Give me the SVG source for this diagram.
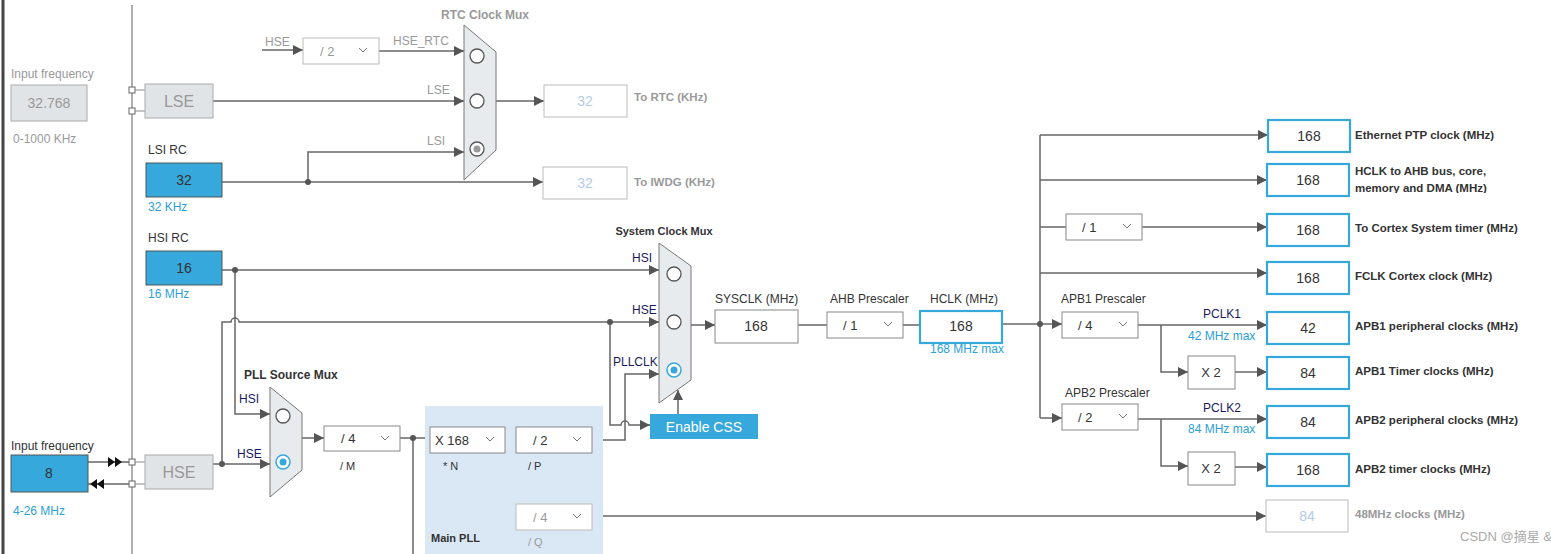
<svg xmlns="http://www.w3.org/2000/svg" width="1551" height="554" viewBox="0 0 1551 554">
<style>
text{font-family:"Liberation Sans",Arial,sans-serif;font-size:12px;fill:#333}
.b{font-weight:bold}
.r{font-weight:bold;font-size:11.5px}
.g{fill:#999}
.bl{fill:#2a9fd8}
.nv{fill:#1a1a5e}
.lt{fill:#b4cbe8}
.v{font-size:14px;text-anchor:middle}
.w{fill:#fff}
.ln{fill:none;stroke:#666;stroke-width:1.5}
.box{fill:#fff;stroke:#888;stroke-width:1}
.lbox{fill:#fff;stroke:#bbb;stroke-width:1}
.gbox{fill:#e1e4e7;stroke:#aaa;stroke-width:1}
.blue{fill:#37a8db;stroke:#555;stroke-width:1}
.out{fill:#fff;stroke:#37a8db;stroke-width:2.2}
.mux{fill:#e8ebee;stroke:#777;stroke-width:1}
.c{fill:#fff;stroke:#555;stroke-width:1.3}
.cs{fill:#fff;stroke:#37a8db;stroke-width:1.5}
.chev{fill:none;stroke:#777;stroke-width:1}
</style>
<defs>
<marker id="a" viewBox="0 0 10 10" refX="10" refY="5" markerWidth="10" markerHeight="10" markerUnits="userSpaceOnUse" orient="auto"><path d="M0,0L10,5L0,10z" fill="#555"/></marker>
</defs>
<rect x="0" y="0" width="1551" height="554" fill="#fff"/>
<line x1="3" y1="0" x2="3" y2="554" stroke="#444" stroke-width="3"/>
<line x1="132" y1="5" x2="132" y2="554" stroke="#777" stroke-width="1.2"/>

<g id="connectors">
<path class="ln" d="M262,50H303" marker-end="url(#a)"/>
<path class="ln" d="M379,51H464" marker-end="url(#a)"/>
<path class="ln" d="M213,101H464" marker-end="url(#a)"/>
<path class="ln" d="M222,182H543" marker-end="url(#a)"/>
<path class="ln" d="M308,182V152H464" marker-end="url(#a)"/>
<path class="ln" d="M487,101H544" marker-end="url(#a)"/>
<path class="ln" d="M222,270H659" marker-end="url(#a)"/>
<path class="ln" d="M235,270V414H270" marker-end="url(#a)"/>
<path class="ln" d="M213,464H270" marker-end="url(#a)"/>
<path class="ln" d="M222,464V322H231a4,4 0 0 1 8,0H659" marker-end="url(#a)"/>
<path class="ln" d="M610,322V425H621a4,4 0 0 1 8,0H650" marker-end="url(#a)"/>
<path class="ln" d="M302,438H324" marker-end="url(#a)"/>
<path class="ln" d="M400,438H430"/>
<path class="ln" d="M413,438V554"/>
<path class="ln" d="M505,438H516"/>
<path class="ln" d="M509,438V517H516"/>
<path class="ln" d="M592,440H625V374H659" marker-end="url(#a)"/>
<path class="ln" d="M592,516H1266" marker-end="url(#a)"/>
<path class="ln" d="M678,414V390" marker-end="url(#a)"/>
<path class="ln" d="M691,325H715" marker-end="url(#a)"/>
<path class="ln" d="M798,325H827"/>
<path class="ln" d="M903,325H920"/>
<path class="ln" d="M1002,324H1040"/>
<path class="ln" d="M1040,135V418"/>
<path class="ln" d="M1040,135H1268" marker-end="url(#a)"/>
<path class="ln" d="M1040,180H1267" marker-end="url(#a)"/>
<path class="ln" d="M1040,227H1066"/>
<path class="ln" d="M1142,227H1267" marker-end="url(#a)"/>
<path class="ln" d="M1040,273H1267" marker-end="url(#a)"/>
<path class="ln" d="M1040,324H1062" marker-end="url(#a)"/>
<path class="ln" d="M1138,325H1267" marker-end="url(#a)"/>
<path class="ln" d="M1161,325V372H1188" marker-end="url(#a)"/>
<path class="ln" d="M1235,372H1267" marker-end="url(#a)"/>
<path class="ln" d="M1040,418H1062" marker-end="url(#a)"/>
<path class="ln" d="M1138,419H1267" marker-end="url(#a)"/>
<path class="ln" d="M1161,419V466H1188" marker-end="url(#a)"/>
<path class="ln" d="M1235,467H1267" marker-end="url(#a)"/>
<path class="ln" d="M88,462H132M88,484H132"/>
<path d="M108,457l7,5l-7,5zM115,457l7,5l-7,5zM97,479l-7,5l7,5zM104,479l-7,5l7,5z" fill="#111"/>
<g fill="#555"><circle cx="308" cy="182" r="3"/><circle cx="235" cy="270" r="3"/><circle cx="222" cy="464" r="3"/><circle cx="610" cy="322" r="3"/><circle cx="413" cy="438" r="3"/><circle cx="1040" cy="324" r="3"/></g>
</g>

<g id="lse-input"><text x="11" y="78" class="g">Input frequency</text><rect class="gbox" x="11" y="85" width="76" height="36"/><text x="49" y="108" class="v g">32.768</text><text x="13" y="143" class="g">0-1000 KHz</text></g>
<g id="lse"><rect x="129" y="87" width="6" height="6" fill="#fff" stroke="#666"/><rect x="129" y="108" width="6" height="6" fill="#fff" stroke="#666"/><path d="M135,90H145M135,111H145" stroke="#888"/><rect class="gbox" x="145" y="84" width="68" height="34"/><text x="179" y="107" class="v g" style="font-size:16px">LSE</text></g>
<g id="lsi"><text x="148" y="154">LSI RC</text><rect class="blue" x="146" y="163" width="76" height="34"/><text x="184" y="185" class="v">32</text><text x="148" y="211" class="bl">32 KHz</text></g>
<g id="hsi"><text x="148" y="242">HSI RC</text><rect class="blue" x="146" y="251" width="76" height="34"/><text x="184" y="273" class="v">16</text><text x="148" y="298" class="bl">16 MHz</text></g>
<g id="hse-input"><text x="11" y="450">Input frequency</text><rect class="blue" x="11" y="455" width="77" height="37"/><text x="49" y="478" class="v">8</text><text x="13" y="515" class="bl">4-26 MHz</text></g>
<g id="hse"><rect x="129" y="459" width="6" height="6" fill="#fff" stroke="#666"/><rect x="129" y="481" width="6" height="6" fill="#fff" stroke="#666"/><path d="M135,462H145M135,484H145" stroke="#888"/><rect class="gbox" x="145" y="455" width="68" height="34"/><text x="179" y="478" class="v g" style="font-size:16px">HSE</text></g>

<g id="rtc-mux"><text x="485" y="19" class="b g" text-anchor="middle">RTC Clock Mux</text><polygon class="mux" points="464,25 496,52 496,150 464,180"/><circle class="c" cx="477" cy="56" r="7" stroke="#999"/><circle class="c" cx="477" cy="101" r="7" stroke="#999"/><circle class="c" cx="477" cy="149" r="7" stroke="#999"/><circle cx="477" cy="149" r="3.5" fill="#999"/>
<text x="265" y="46" class="g">HSE</text><text x="393" y="45" class="g">HSE_RTC</text><text x="427" y="94" class="g">LSE</text><text x="427" y="145" class="g">LSI</text></g>
<g id="div-hse-rtc"><rect class="lbox" x="303" y="38" width="76" height="26"/><text x="320" y="56" class="g" style="font-size:13px">/ 2</text><path class="chev" d="M359,48l4,4l4,-4"/></g>
<g id="to-rtc"><rect class="lbox" x="544" y="85" width="83" height="32"/><text x="585" y="106" class="v lt">32</text><text x="634" y="101" class="r g">To RTC (KHz)</text></g>
<g id="to-iwdg"><rect class="lbox" x="543" y="167" width="84" height="32"/><text x="585" y="188" class="v lt">32</text><text x="634" y="186" class="r g">To IWDG (KHz)</text></g>

<g id="pll-mux"><text x="244" y="379" class="b">PLL Source Mux</text><polygon class="mux" points="270,387 302,413 302,470 270,497"/><circle class="c" cx="283" cy="416" r="7"/><circle class="cs" cx="283" cy="462" r="7"/><circle cx="283" cy="462" r="3.5" fill="#37a8db"/><text x="239" y="403" class="nv">HSI</text><text x="237" y="458" class="nv">HSE</text></g>
<g id="div-m"><rect class="box" x="324" y="426" width="76" height="25"/><text x="341" y="443" style="font-size:13px">/ 4</text><path class="chev" d="M381,436l4,4l4,-4"/><text x="340" y="470" style="font-size:11px">/ M</text></g>
<g id="main-pll"><rect x="425" y="406" width="178" height="148" fill="#dae8f5"/><text x="431" y="542" class="b" style="font-size:11px">Main PLL</text></g>
<g id="mul-n"><rect class="box" x="430" y="427" width="75" height="26"/><text x="435" y="445" style="font-size:13px">X 168</text><path class="chev" d="M486,437l4,4l4,-4"/><text x="443" y="470" style="font-size:11px">* N</text></g>
<g id="div-p"><rect class="box" x="516" y="427" width="76" height="26"/><text x="533" y="445" style="font-size:13px">/ 2</text><path class="chev" d="M573,437l4,4l4,-4"/><text x="528" y="470" style="font-size:11px">/ P</text></g>
<g id="div-q"><rect class="lbox" x="516" y="504" width="76" height="26"/><text x="533" y="522" class="g" style="font-size:13px">/ 4</text><path class="chev" d="M573,514l4,4l4,-4" stroke="#bbb"/><text x="528" y="546" class="g" style="font-size:11px">/ Q</text></g>

<g id="sys-mux"><text x="664" y="235" class="b" text-anchor="middle" style="font-size:11px">System Clock Mux</text><polygon class="mux" points="659,243 691,266 691,380 659,403"/><circle class="c" cx="674" cy="274" r="7"/><circle class="c" cx="674" cy="322" r="7"/><circle class="cs" cx="674" cy="370" r="7"/><circle cx="674" cy="370" r="3.5" fill="#37a8db"/><text x="632" y="262" class="nv">HSI</text><text x="632" y="314" class="nv">HSE</text><text x="613" y="366" class="nv">PLLCLK</text></g>
<g id="enable-css"><rect x="650" y="414" width="108" height="25" fill="#37a8db"/><text x="704" y="432" class="v w">Enable CSS</text></g>
<g id="sysclk"><text x="715" y="303">SYSCLK (MHz)</text><rect class="box" x="715" y="310" width="83" height="33"/><text x="756" y="331" class="v">168</text></g>
<g id="ahb"><text x="830" y="303">AHB Prescaler</text><rect class="box" x="827" y="312" width="76" height="26"/><text x="843" y="330" style="font-size:13px">/ 1</text><path class="chev" d="M884,322l4,4l4,-4"/></g>
<g id="hclk"><text x="930" y="303">HCLK (MHz)</text><rect class="out" x="920" y="311" width="82" height="32"/><text x="961" y="331" class="v">168</text><text x="930" y="353" class="bl">168 MHz max</text></g>

<g id="eth"><rect class="out" x="1268" y="120" width="82" height="32"/><text x="1309" y="141" class="v">168</text><text x="1355" y="139" class="r">Ethernet PTP clock (MHz)</text></g>
<g id="hclk-ahb"><rect class="out" x="1267" y="164" width="82" height="32"/><text x="1308" y="185" class="v">168</text><text x="1355" y="175" class="r">HCLK to AHB bus, core,</text><svg x="1350" y="180" width="200" height="13" overflow="hidden"><text x="5" y="12" class="r">memory and DMA (MHz)</text></svg></g>
<g id="div-cortex"><rect class="box" x="1066" y="214" width="76" height="26"/><text x="1082" y="232" style="font-size:13px">/ 1</text><path class="chev" d="M1123,224l4,4l4,-4"/></g>
<g id="cortex"><rect class="out" x="1267" y="214" width="82" height="32"/><text x="1308" y="235" class="v">168</text><text x="1355" y="232" class="r">To Cortex System timer (MHz)</text></g>
<g id="fclk"><rect class="out" x="1267" y="262" width="82" height="32"/><text x="1308" y="283" class="v">168</text><text x="1355" y="280" class="r">FCLK Cortex clock (MHz)</text></g>
<g id="apb1"><text x="1061" y="303">APB1 Prescaler</text><rect class="box" x="1062" y="312" width="76" height="26"/><text x="1078" y="330" style="font-size:13px">/ 4</text><path class="chev" d="M1119,322l4,4l4,-4"/><text x="1203" y="318" class="nv">PCLK1</text><text x="1188" y="340" class="bl">42 MHz max</text></g>
<g id="apb1-per"><rect class="out" x="1267" y="312" width="82" height="32"/><text x="1308" y="333" class="v">42</text><text x="1355" y="330" class="r">APB1 peripheral clocks (MHz)</text></g>
<g id="x2-1"><rect class="box" x="1188" y="356" width="47" height="33"/><text x="1211" y="377" class="v" style="font-size:13px">X 2</text></g>
<g id="apb1-tim"><rect class="out" x="1267" y="357" width="82" height="32"/><text x="1308" y="378" class="v">84</text><text x="1355" y="375" class="r">APB1 Timer clocks (MHz)</text></g>
<g id="apb2"><text x="1065" y="397">APB2 Prescaler</text><rect class="box" x="1062" y="404" width="76" height="26"/><text x="1078" y="422" style="font-size:13px">/ 2</text><path class="chev" d="M1119,414l4,4l4,-4"/><text x="1203" y="412" class="nv">PCLK2</text><text x="1188" y="433" class="bl">84 MHz max</text></g>
<g id="apb2-per"><rect class="out" x="1267" y="406" width="82" height="32"/><text x="1308" y="427" class="v">84</text><text x="1355" y="424" class="r">APB2 peripheral clocks (MHz)</text></g>
<g id="x2-2"><rect class="box" x="1188" y="452" width="47" height="33"/><text x="1211" y="473" class="v" style="font-size:13px">X 2</text></g>
<g id="apb2-tim"><rect class="out" x="1267" y="454" width="82" height="32"/><text x="1308" y="475" class="v">168</text><text x="1355" y="473" class="r">APB2 timer clocks (MHz)</text></g>
<g id="usb48"><rect class="lbox" x="1266" y="500" width="82" height="32"/><text x="1307" y="521" class="v lt">84</text><text x="1355" y="518" class="r g">48MHz clocks (MHz)</text></g>
<text x="1460" y="541" style="fill:#aaa;font-size:13px;font-family:'Liberation Sans','Noto Sans CJK SC',sans-serif">CSDN @摘星 &amp;</text>
</svg>
